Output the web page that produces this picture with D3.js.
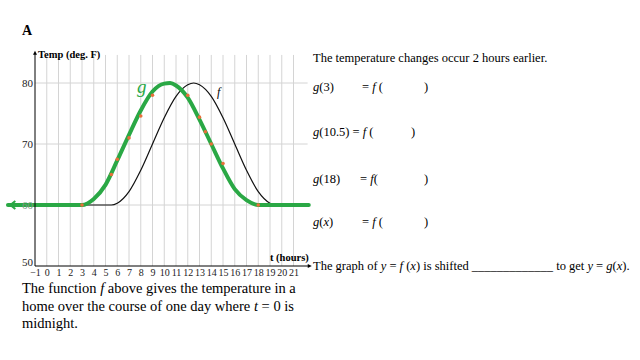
<!DOCTYPE html>
<html>
<head>
<meta charset="utf-8">
<script src="https://cdn.jsdelivr.net/npm/d3@7"></script>
<style>
  body { margin: 0; background: #fff; }
  svg { display: block; }
  svg text { font-family: "Liberation Serif", "Times New Roman", serif; }
</style>
</head>
<body>
<div id="chart"></div>
<script>
// hours on the t axis and temperature ticks
const hourTicks = d3.range(-1, 22);
const tempTicks = [50, 60, 70, 80];

// f: thin black curve (t, temp)
const fHours = [-1, 5.5, 6, 7, 8, 9, 10, 11, 12, 12.5, 13, 14, 15, 16, 17, 18, 19, 19.5, 22];
const fTemps = [60, 60, 60.3, 62.2, 65.7, 70, 74.3, 77.8, 79.7, 80, 79.7, 77.8, 74.3, 70, 65.7, 62.2, 60.3, 60, 60];

// g: hand drawn green curve
const gHours = [-3.3, 3, 4, 5, 6, 7, 8, 9, 10, 10.5, 11, 12, 13, 14, 15, 16, 17, 18, 22.3];
const gTemps = [60, 60, 61, 63.3, 67.3, 71.5, 75.5, 78.6, 79.9, 80, 79.6, 77.6, 74, 70, 66, 62.6, 60.8, 60, 60];

// orange plotted points
const dotHours = [3, 5.5, 6, 7, 8, 9, 12, 13, 13.5, 14, 15, 18];
const dotTemps = [60, 65, 67.5, 71, 74.6, 78, 78, 74.4, 72, 70, 66.8, 60];

const width = 640, height = 360;

const svg = d3.select('#chart').append('svg')
  .attr('width', width)
  .attr('height', height);

const x = d3.scaleLinear().domain([-1, 21]).range([35, 293.5]);
const y = d3.scaleLinear().domain([50, 80]).range([266, 83]);

// panel letter
svg.append('text').attr('x', 22).attr('y', 35)
  .attr('font-size', 14).attr('font-weight', 'bold').text('A');

// grid
const grid = svg.append('g').attr('stroke', '#d4d4d4').attr('stroke-width', 1);
grid.selectAll('line.v').data(hourTicks.filter(d => d >= 0)).enter().append('line')
  .attr('x1', d => x(d)).attr('x2', d => x(d))
  .attr('y1', y(84.6)).attr('y2', y(50));
grid.selectAll('line.h').data(tempTicks.filter(d => d > 50)).enter().append('line')
  .attr('x1', x(-1)).attr('x2', x(22.2))
  .attr('y1', d => y(d)).attr('y2', d => y(d));

const line = d3.line().x(d => x(d[0])).y(d => y(d[1])).curve(d3.curveMonotoneX);

// f
svg.append('path')
  .datum(d3.zip(fHours, fTemps))
  .attr('fill', 'none').attr('stroke', '#111').attr('stroke-width', 1.2)
  .attr('d', line);

// g
svg.append('path')
  .datum(d3.zip(gHours, gTemps))
  .attr('fill', 'none').attr('stroke', '#2aa845').attr('stroke-width', 4)
  .attr('stroke-linecap', 'round').attr('stroke-linejoin', 'round')
  .attr('d', line);
svg.append('path')
  .attr('d', `M${x(-3.1) + 5},${y(60) - 4} L${x(-3.1)},${y(60)} L${x(-3.1) + 5},${y(60) + 4}`)
  .attr('fill', 'none').attr('stroke', '#2aa845').attr('stroke-width', 2);

svg.append('g').selectAll('circle')
  .data(d3.zip(dotHours, dotTemps)).enter().append('circle')
  .attr('cx', d => x(d[0])).attr('cy', d => y(d[1]))
  .attr('r', 1.8).attr('fill', '#e8703a');

// axes
const xAxis = d3.axisBottom(x).tickValues(hourTicks).tickSize(0).tickPadding(3);
const gx = svg.append('g').attr('transform', `translate(0,${y(50)})`).call(xAxis);
gx.attr('font-family', null).attr('font-size', null);
gx.select('.domain').remove();
gx.selectAll('text').style('font-size', '10px').attr('fill', '#222');

const yAxis = d3.axisLeft(y).tickValues(tempTicks).tickSize(0).tickPadding(2);
const gy = svg.append('g').attr('transform', `translate(${x(-1)},0)`).call(yAxis);
gy.attr('font-family', null).attr('font-size', null);
gy.select('.domain').remove();
gy.selectAll('text').style('font-size', '11px').attr('fill', '#222');
gy.selectAll('.tick').filter(d => d === 50).select('text').attr('dy', '-0.05em');
gy.selectAll('.tick').filter(d => d === 60).select('text').attr('fill', '#7a9a80');

svg.append('line').attr('x1', x(-1)).attr('x2', x(-1))
  .attr('y1', y(50)).attr('y2', y(84.8)).attr('stroke', '#000');
svg.append('path').attr('d', `M${x(-1)},${y(84.8) - 3} l-2,4 h4 z`).attr('fill', '#000');
svg.append('line').attr('x1', x(-1)).attr('x2', x(22.3))
  .attr('y1', y(50)).attr('y2', y(50)).attr('stroke', '#000');
svg.append('path').attr('d', `M${x(22.3) + 3},${y(50)} l-4,-2 v4 z`).attr('fill', '#000');

svg.append('text').attr('x', x(-1) + 3).attr('y', y(84.1))
  .attr('font-size', 10.5).attr('font-weight', 'bold').text('Temp (deg. F)');
svg.append('text').attr('x', x(22.3)).attr('y', y(50.9))
  .attr('text-anchor', 'end')
  .attr('font-size', 10.5).attr('font-weight', 'bold').text('t (hours)');

// curve labels
svg.append('text').attr('x', 137).attr('y', 93)
  .attr('font-size', 19).attr('font-style', 'italic').attr('fill', '#2aa845')
  .text('g');
svg.append('text').attr('x', 217).attr('y', 96)
  .attr('font-size', 12).attr('font-style', 'italic').text('f');

// caption below
const capLines = [
  ['The function ', ['f'], ' above gives the temperature in a'],
  ['home over the course of one day where ', ['t'], ' = 0 is'],
  ['midnight.']
];
capLines.forEach((parts, i) => {
  const t = svg.append('text').attr('x', 22).attr('y', 293 + i * 17.5).attr('font-size', 14.5);
  parts.forEach(p => {
    if (Array.isArray(p)) t.append('tspan').attr('font-style', 'italic').text(p[0]);
    else t.append('tspan').text(p);
  });
});

// right side questions
const rt = (xx, yy, parts) => {
  const t = svg.append('text').attr('x', xx).attr('y', yy).attr('font-size', 12.5);
  parts.forEach(p => {
    if (Array.isArray(p)) t.append('tspan').attr('font-style', 'italic').text(p[0]);
    else t.append('tspan').text(p);
  });
  return t;
};
rt(313, 62, ['The temperature changes occur 2 hours earlier.']);
rt(313, 91, [['g'], '(3)']);
rt(362, 91, ['= ', ['f'], ' (']);
rt(424, 91, [')']);
rt(313, 136, [['g'], '(10.5) = ', ['f'], ' (']);
rt(411, 136, [')']);
rt(313, 183, [['g'], '(18)']);
rt(360, 183, ['= ', ['f'], '(']);
rt(424, 183, [')']);
rt(313, 226, [['g'], '(', ['x'], ')']);
rt(362, 226, ['= ', ['f'], ' (']);
rt(424, 226, [')']);
rt(313, 270, ['The graph of ', ['y'], ' = ', ['f'], ' (', ['x'], ') is shifted _____________  to get ', ['y'], ' = ', ['g'], '(', ['x'], ').']);
</script>
</body>
</html>
